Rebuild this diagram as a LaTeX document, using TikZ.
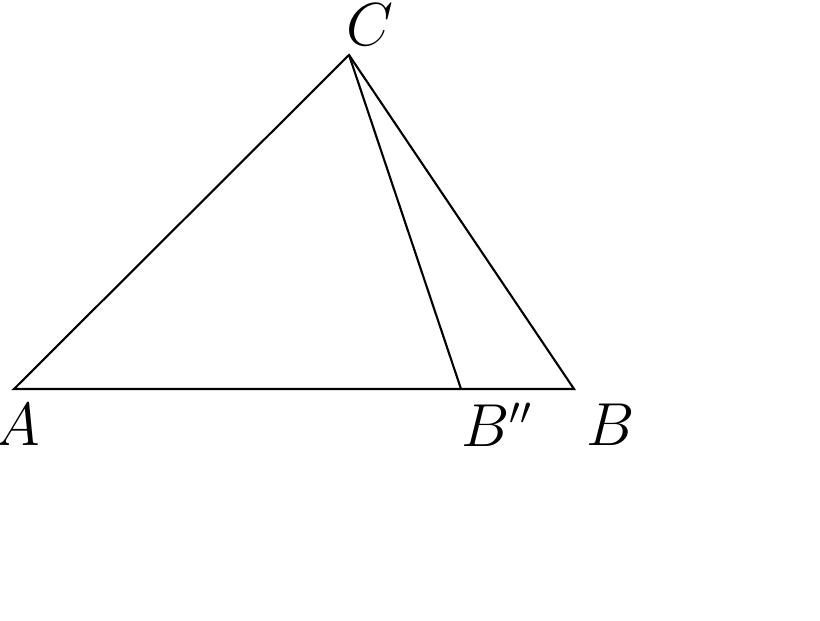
\documentclass[tikz,border=0pt]{standalone}
\usepackage{amsmath}
\usetikzlibrary{calc,positioning}
\tikzset{
  side/.style={line width=0.6pt},
  vertex-label/.style={inner sep=0, font=\fontsize{16}{19}\selectfont}
}
\begin{document}
\begin{tikzpicture}
    \useasboundingbox (0,0) rectangle (8.2,6.21);
    \coordinate (A) at (0.14,2.32);
    \coordinate (B) at (5.74,2.32);
    \coordinate (C) at (3.49,5.66);
    \coordinate (B2) at (4.61,2.32);
    \draw[side] (A) -- (B) -- (C) -- cycle;
    \draw[side] (C) -- (B2);
    \node[vertex-label] (lA) at ($(A)+(0.04,-0.36)$) {$A$};
    \node[vertex-label] (lB) at ($(B)+(0.37,-0.36)$) {$B$};
    \node[vertex-label] (lB2) at ($(B2)+(0.36,-0.36)$) {$B''$};
    \node[vertex-label] (lC) at ($(C)+(0.21,0.30)$) {$C$};
\end{tikzpicture}
\end{document}
